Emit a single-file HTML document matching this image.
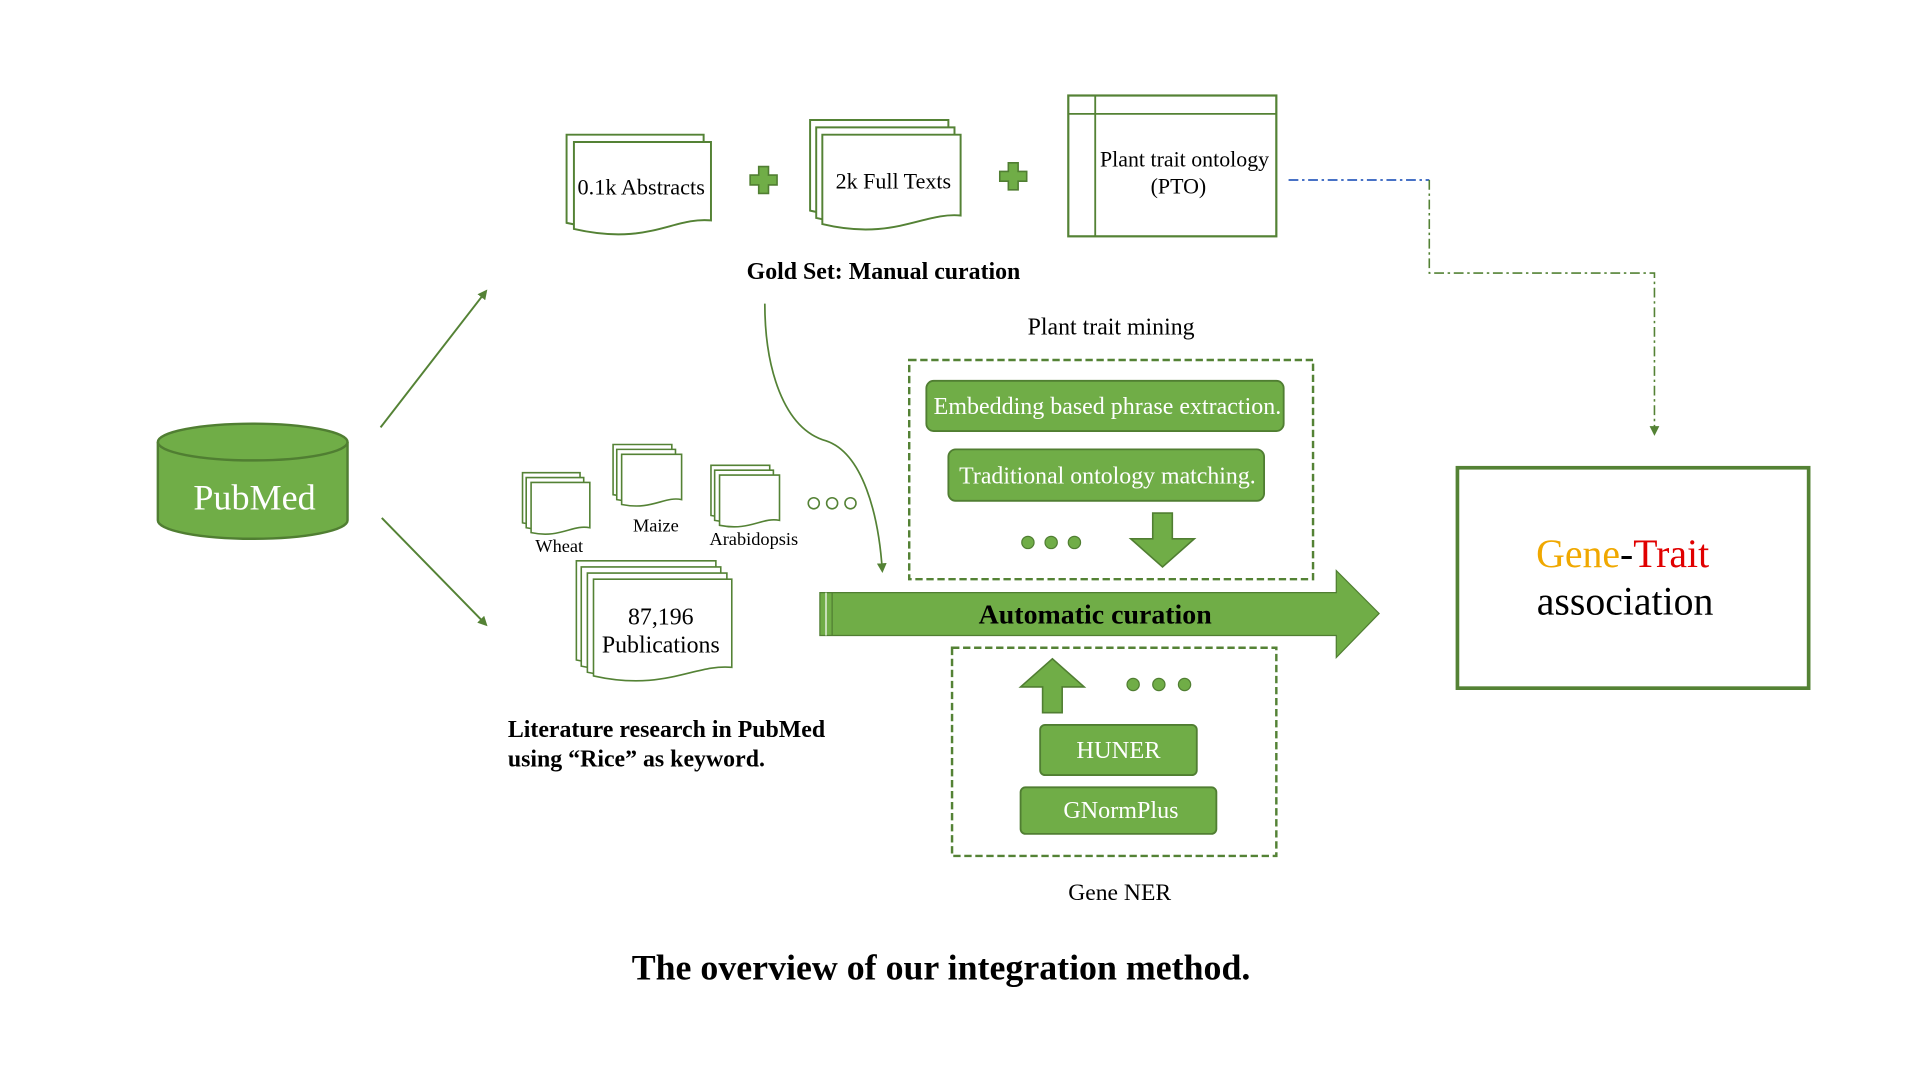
<!DOCTYPE html>
<html><head><meta charset="utf-8"><style>
html,body{margin:0;padding:0;background:#fff;width:1920px;height:1080px;overflow:hidden}
svg{display:block}
text{font-family:"Liberation Serif",serif}
</style></head><body>
<svg width="1920" height="1080" viewBox="0 0 1569 882" preserveAspectRatio="none" xmlns="http://www.w3.org/2000/svg">
<defs>
<marker id="ah" markerWidth="8" markerHeight="8" refX="6" refY="4" orient="auto" markerUnits="userSpaceOnUse"><path d="M0,0 L8,4 L0,8 z" fill="#548235"/></marker>
</defs>
<path d="M129,361 L129,425 A77.5,15 0 0 0 284,425 L284,361" fill="#70ad47" stroke="#507e32" stroke-width="2"/>
<ellipse cx="206.5" cy="361" rx="77.5" ry="15" fill="#70ad47" stroke="#507e32" stroke-width="2"/>
<text x="208" y="416" font-size="29.5" fill="#fff" text-anchor="middle">PubMed</text>
<line x1="311" y1="349" x2="397" y2="238" stroke="#548235" stroke-width="1.6" marker-end="url(#ah)"/>
<line x1="312" y1="423" x2="397" y2="510" stroke="#548235" stroke-width="1.6" marker-end="url(#ah)"/>
<g fill="#fff" stroke="#548235" stroke-width="1.6">
<path d="M463,110 H575 V175 C545,172 525,196 463,182 Z"/>
<path d="M469,116 H581 V180 C550,177 530,201 469,187 Z"/>
</g>
<text x="524" y="159" font-size="18.2" text-anchor="middle">0.1k Abstracts</text>
<g fill="#70ad47" stroke="#507e32" stroke-width="1.3">
<path d="M620,136 h8 v7 h7 v8 h-7 v7 h-8 v-7 h-7 v-8 h7z"/>
<path d="M824,133 h8 v7 h7 v8 h-7 v7 h-8 v-7 h-7 v-8 h7z"/>
</g>
<g fill="#fff" stroke="#548235" stroke-width="1.6">
<path d="M662,98 H775 V165 C745,162 720,186 662,172 Z"/>
<path d="M667,104 H780 V171 C750,168 725,192 667,178 Z"/>
<path d="M672,110 H785 V176 C755,173 730,197 672,183 Z"/>
</g>
<text x="730" y="154" font-size="18" text-anchor="middle">2k Full Texts</text>
<rect x="873" y="78" width="170" height="115" fill="#fff" stroke="#548235" stroke-width="1.8"/>
<line x1="895" y1="78" x2="895" y2="193" stroke="#548235" stroke-width="1.5"/>
<line x1="873" y1="93" x2="1043" y2="93" stroke="#548235" stroke-width="1.5"/>
<text x="968" y="136" font-size="17.9" text-anchor="middle">Plant trait ontology</text>
<text x="963" y="158" font-size="17.9" text-anchor="middle">(PTO)</text>
<path d="M1053,147 H1168" stroke="#2f5fbf" stroke-width="1.5" fill="none" stroke-dasharray="8,3,2,3"/>
<path d="M1168,147 V223 H1352 V354" stroke="#548235" stroke-width="1.3" fill="none" stroke-dasharray="8,3,2,3" marker-end="url(#ah)"/>
<text x="722" y="228" font-size="19.5" font-weight="bold" text-anchor="middle">Gold Set: Manual curation</text>
<path d="M625,248 C625,300 640,350 675,360 C705,370 718,420 721,466" stroke="#548235" stroke-width="1.4" fill="none" marker-end="url(#ah)"/>
<text x="908" y="273" font-size="19.5" text-anchor="middle">Plant trait mining</text>
<rect x="743" y="294" width="330" height="179" fill="none" stroke="#548235" stroke-width="2" stroke-dasharray="6,3"/>
<rect x="757" y="311" width="292" height="41" rx="6" fill="#70ad47" stroke="#507e32" stroke-width="1.5"/>
<text x="905" y="338" font-size="19.6" fill="#fff" text-anchor="middle">Embedding based phrase extraction.</text>
<rect x="775" y="367" width="258" height="42" rx="6" fill="#70ad47" stroke="#507e32" stroke-width="1.5"/>
<text x="905" y="395" font-size="19.5" fill="#fff" text-anchor="middle">Traditional ontology matching.</text>
<g fill="#70ad47" stroke="#507e32"><circle cx="840" cy="443" r="5"/><circle cx="859" cy="443" r="5"/><circle cx="878" cy="443" r="5"/>
<circle cx="926" cy="559" r="5"/><circle cx="947" cy="559" r="5"/><circle cx="968" cy="559" r="5"/></g>
<path d="M942,419 h16 v21 h18 l-26,23 l-26,-23 h18z" fill="#70ad47" stroke="#507e32" stroke-width="1.3"/>
<path d="M670,484 H1092 V466 L1127,501 L1092,537 V519 H670 Z" fill="#70ad47" stroke="#507e32" stroke-width="1"/>
<line x1="675" y1="484" x2="675" y2="519" stroke="#fff" stroke-width="1"/>
<line x1="680" y1="484" x2="680" y2="519" stroke="#507e32" stroke-width="1"/>
<text x="895" y="509" font-size="22.8" font-weight="bold" text-anchor="middle">Automatic curation</text>
<rect x="778" y="529" width="265" height="170" fill="none" stroke="#548235" stroke-width="2" stroke-dasharray="6,3"/>
<path d="M852,582 v-21 h-18 l26,-23 l26,23 h-18 v21z" fill="#70ad47" stroke="#507e32" stroke-width="1.3"/>
<rect x="850" y="592" width="128" height="41" rx="4" fill="#70ad47" stroke="#507e32" stroke-width="1.5"/>
<text x="914" y="619" font-size="20" fill="#fff" text-anchor="middle">HUNER</text>
<rect x="834" y="643" width="160" height="38" rx="4" fill="#70ad47" stroke="#507e32" stroke-width="1.5"/>
<text x="916" y="668" font-size="19.7" fill="#fff" text-anchor="middle">GNormPlus</text>
<text x="915" y="735" font-size="19.3" text-anchor="middle">Gene NER</text>
<rect x="1191" y="382" width="287" height="180" fill="#fff" stroke="#548235" stroke-width="3"/>
<text x="1326" y="463" font-size="32.5" text-anchor="middle"><tspan fill="#f0a800">Gene</tspan><tspan fill="#000">-</tspan><tspan fill="#e00000">Trait</tspan></text>
<text x="1328" y="502" font-size="32.5" text-anchor="middle">association</text>
<g fill="#fff" stroke="#548235" stroke-width="1.3">
<path d="M427,386 H474 V423 C460,420 450,432 427,427 Z"/>
<path d="M430,390 H477 V427 C463,424 453,436 430,431 Z"/>
<path d="M434,394 H482 V431 C468,428 458,440 434,435 Z"/>
<path d="M501,363 H549 V400 C535,397 525,409 501,404 Z"/>
<path d="M504,367 H552 V404 C538,401 528,413 504,408 Z"/>
<path d="M508,371 H557 V408 C543,405 533,417 508,412 Z"/>
<path d="M581,380 H629 V417 C615,414 605,426 581,421 Z"/>
<path d="M584,384 H632 V421 C618,418 608,430 584,425 Z"/>
<path d="M588,388 H637 V425 C623,422 613,434 588,429 Z"/>
<circle cx="665" cy="411" r="4.5"/><circle cx="680" cy="411" r="4.5"/><circle cx="695" cy="411" r="4.5"/>
<path d="M471,458 H585 V532 C555,529 530,552 471,539 Z"/>
<path d="M475,463 H589 V537 C559,534 534,557 475,544 Z"/>
<path d="M480,468 H594 V542 C564,539 539,562 480,549 Z"/>
<path d="M485,473 H598 V545 C568,542 543,565 485,552 Z"/>
</g>
<text x="457" y="451" font-size="15" text-anchor="middle">Wheat</text>
<text x="536" y="434" font-size="15" text-anchor="middle">Maize</text>
<text x="616" y="445" font-size="15" text-anchor="middle">Arabidopsis</text>
<text x="540" y="510" font-size="19.5" text-anchor="middle">87,196</text>
<text x="540" y="533" font-size="19.5" text-anchor="middle">Publications</text>
<text x="415" y="602" font-size="19.5" font-weight="bold">Literature research in PubMed</text>
<text x="415" y="626" font-size="19.5" font-weight="bold">using “Rice” as keyword.</text>
<text x="769" y="800" font-size="29.3" font-weight="bold" text-anchor="middle">The overview of our integration method.</text>
</svg>
</body></html>
